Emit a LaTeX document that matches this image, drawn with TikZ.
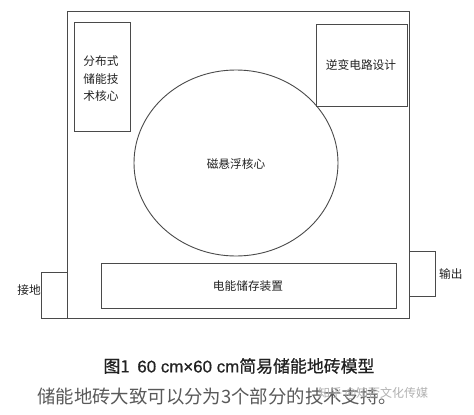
\documentclass[tikz,border=0pt]{standalone}
\usepackage{fontspec}
\newfontfamily\cjk{Noto Sans CJK SC}
\newfontfamily\cjkb[FakeBold=0.6]{Noto Sans CJK SC}
\newfontfamily\latb[FakeBold=0.6]{Liberation Sans}
\definecolor{ln}{HTML}{4A4A4A}
\definecolor{tx}{HTML}{222222}
\begin{document}
\begin{tikzpicture}[x=1pt,y=-1pt,
  box/.style={draw=ln,line width=0.9pt},
  lab/.style={font=\cjk\fontsize{11.7}{17.5}\selectfont,text=tx,align=center,inner sep=0}]
\useasboundingbox (0,0) rectangle (474,415);
\fill[white] (0,0) rectangle (474,415);
\draw[box] (67,11) rectangle (409,318);
\draw[box] (74,22) rectangle (130,131);
\node[lab] (l1) at (101,79) {分布式\\储能技\\术核心};
\draw[box] (316,24) rectangle (407,106);
\node[lab] (l2) at (361,65) {逆变电路设计};
\draw[box] (236,163) ellipse [x radius=102, y radius=93];
\node[lab] (l3) at (236,164) {磁悬浮核心};
\draw[box] (101,263) rectangle (396,308);
\node[lab] (l4) at (248,286) {电能储存装置};
\draw[box] (41,272) rectangle (67,318);
\node[lab,anchor=east] (l5) at (41,290) {接地};
\draw[box] (409,251) rectangle (435,296);
\node[lab,anchor=west] (l6) at (439,274) {输出};
\node[font=\cjkb\fontsize{16.9}{20}\selectfont,text=tx,inner sep=0] (cap) at (239,366) {图1\ \ {\latb 60 cm×60 cm}简易储能地砖模型};
\node[font=\cjk\fontsize{18.4}{22}\selectfont,text=black!65,inner sep=0,anchor=west] (t2) at (37,397) {储能地砖大致可以分为3个部分的技术支持。};
\node[font=\cjk\fontsize{12}{14}\selectfont,text=black!30,inner sep=0,anchor=west] (wm) at (318,393) {知乎 @知否文化传媒};
\end{tikzpicture}
\end{document}
